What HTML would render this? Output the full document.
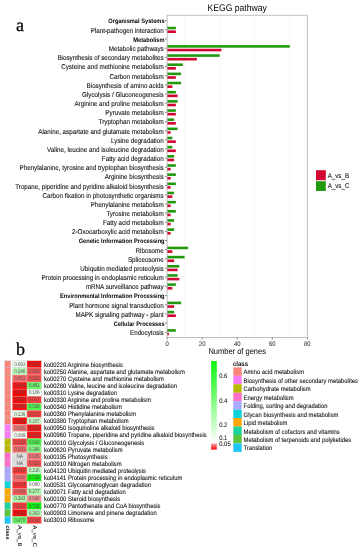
<!DOCTYPE html>
<html><head><meta charset="utf-8"><style>
html,body{margin:0;padding:0;background:#fff;}
body{width:362px;height:550px;overflow:hidden;}
svg{display:block;}
text{font-family:"Liberation Sans",Arial,sans-serif;text-rendering:geometricPrecision;}
.lab{font-family:"Liberation Serif","Times New Roman",serif;font-size:18px;fill:#000;stroke:#000;stroke-width:0.25px;}
.title{font-size:8.6px;text-anchor:middle;dominant-baseline:auto;fill:#000;}
.y{font-size:6.25px;text-anchor:end;fill:#111;stroke:#111;stroke-width:0.09px;}
.yb{font-size:5.7px;font-weight:bold;text-anchor:end;fill:#000;}
.xt{font-size:5.9px;text-anchor:middle;fill:#333;stroke:#333;stroke-width:0.06px;}
.xl{font-size:7.5px;text-anchor:middle;fill:#000;}
.lg{font-size:6.2px;fill:#111;stroke:#111;stroke-width:0.08px;}
.grid{stroke:#f2f2f2;stroke-width:0.6;}
.tick{stroke:#333;stroke-width:0.6;}
.frame{fill:none;stroke:#aaaaaa;stroke-width:0.75;}
.cb{stroke:#c4c4c4;stroke-width:0.3;}
.num{font-size:4.8px;letter-spacing:-0.25px;text-anchor:middle;fill:#555;}
.rl{font-size:5.85px;fill:#111;stroke:#111;stroke-width:0.08px;}
.cl{font-size:5.5px;fill:#111;stroke:#111;stroke-width:0.08px;}
.clb{font-size:5.1px;font-weight:bold;fill:#000;}
.cbl{font-size:5.9px;fill:#222;stroke:#222;stroke-width:0.08px;}
.lt{font-size:6px;font-weight:bold;fill:#000;}
.lgt{font-size:5.85px;fill:#111;stroke:#111;stroke-width:0.08px;}
</style></head><body>
<svg width="362" height="550" viewBox="0 0 362 550">
<text x="16" y="31.4" class="lab">a</text>
<text transform="translate(237.2 10.6) scale(1 1.12)" class="title">KEGG pathway</text>
<line x1="184.62" y1="15.2" x2="184.62" y2="337.5" class="grid"/>
<line x1="219.68" y1="15.2" x2="219.68" y2="337.5" class="grid"/>
<line x1="254.73" y1="15.2" x2="254.73" y2="337.5" class="grid"/>
<line x1="289.77" y1="15.2" x2="289.77" y2="337.5" class="grid"/>
<text transform="translate(164.6 23.35) scale(1 1.12)" class="yb">Organismal Systems</text>
<line x1="165" y1="20.7" x2="167.1" y2="20.7" class="tick"/>
<text transform="translate(163.7 32.76) scale(1 1.12)" class="y">Plant-pathogen interaction</text>
<line x1="165" y1="29.86" x2="167.1" y2="29.86" class="tick"/>
<rect x="167.1" y="26.76" width="8.76" height="2.6" fill="#21990c"/>
<rect x="167.1" y="30.41" width="8.76" height="2.6" fill="#d20432"/>
<text transform="translate(164.6 41.67) scale(1 1.12)" class="yb">Metabolism</text>
<line x1="165" y1="39.02" x2="167.1" y2="39.02" class="tick"/>
<text transform="translate(163.7 51.09) scale(1 1.12)" class="y">Metabolic pathways</text>
<line x1="165" y1="48.19" x2="167.1" y2="48.19" class="tick"/>
<rect x="167.1" y="45.09" width="122.68" height="2.6" fill="#21990c"/>
<rect x="167.1" y="48.74" width="54.33" height="2.6" fill="#d20432"/>
<text transform="translate(163.7 60.25) scale(1 1.12)" class="y">Biosynthesis of secondary metabolites</text>
<line x1="165" y1="57.35" x2="167.1" y2="57.35" class="tick"/>
<rect x="167.1" y="54.25" width="52.58" height="2.6" fill="#21990c"/>
<rect x="167.1" y="57.9" width="29.79" height="2.6" fill="#d20432"/>
<text transform="translate(163.7 69.41) scale(1 1.12)" class="y">Cysteine and methionine metabolism</text>
<line x1="165" y1="66.51" x2="167.1" y2="66.51" class="tick"/>
<rect x="167.1" y="63.41" width="15.77" height="2.6" fill="#21990c"/>
<rect x="167.1" y="67.06" width="8.76" height="2.6" fill="#d20432"/>
<text transform="translate(163.7 78.57) scale(1 1.12)" class="y">Carbon metabolism</text>
<line x1="165" y1="75.67" x2="167.1" y2="75.67" class="tick"/>
<rect x="167.1" y="72.57" width="14.02" height="2.6" fill="#21990c"/>
<rect x="167.1" y="76.22" width="8.76" height="2.6" fill="#d20432"/>
<text transform="translate(163.7 87.73) scale(1 1.12)" class="y">Biosynthesis of amino acids</text>
<line x1="165" y1="84.83" x2="167.1" y2="84.83" class="tick"/>
<rect x="167.1" y="81.73" width="14.02" height="2.6" fill="#21990c"/>
<rect x="167.1" y="85.38" width="5.26" height="2.6" fill="#d20432"/>
<text transform="translate(163.7 96.9) scale(1 1.12)" class="y">Glycolysis / Gluconeogenesis</text>
<line x1="165" y1="94" x2="167.1" y2="94" class="tick"/>
<rect x="167.1" y="90.9" width="8.76" height="2.6" fill="#21990c"/>
<rect x="167.1" y="94.55" width="10.52" height="2.6" fill="#d20432"/>
<text transform="translate(163.7 106.06) scale(1 1.12)" class="y">Arginine and proline metabolism</text>
<line x1="165" y1="103.16" x2="167.1" y2="103.16" class="tick"/>
<rect x="167.1" y="100.06" width="10.52" height="2.6" fill="#21990c"/>
<rect x="167.1" y="103.71" width="8.76" height="2.6" fill="#d20432"/>
<text transform="translate(163.7 115.22) scale(1 1.12)" class="y">Pyruvate metabolism</text>
<line x1="165" y1="112.32" x2="167.1" y2="112.32" class="tick"/>
<rect x="167.1" y="109.22" width="8.76" height="2.6" fill="#21990c"/>
<rect x="167.1" y="112.87" width="8.76" height="2.6" fill="#d20432"/>
<text transform="translate(163.7 124.38) scale(1 1.12)" class="y">Tryptophan metabolism</text>
<line x1="165" y1="121.48" x2="167.1" y2="121.48" class="tick"/>
<rect x="167.1" y="118.38" width="7.01" height="2.6" fill="#21990c"/>
<rect x="167.1" y="122.03" width="8.76" height="2.6" fill="#d20432"/>
<text transform="translate(163.7 133.54) scale(1 1.12)" class="y">Alanine, aspartate and glutamate metabolism</text>
<line x1="165" y1="130.64" x2="167.1" y2="130.64" class="tick"/>
<rect x="167.1" y="127.54" width="10.52" height="2.6" fill="#21990c"/>
<rect x="167.1" y="131.19" width="3.51" height="2.6" fill="#d20432"/>
<text transform="translate(163.7 142.71) scale(1 1.12)" class="y">Lysine degradation</text>
<line x1="165" y1="139.81" x2="167.1" y2="139.81" class="tick"/>
<rect x="167.1" y="136.71" width="5.26" height="2.6" fill="#21990c"/>
<rect x="167.1" y="140.36" width="8.76" height="2.6" fill="#d20432"/>
<text transform="translate(163.7 151.87) scale(1 1.12)" class="y">Valine, leucine and isoleucine degradation</text>
<line x1="165" y1="148.97" x2="167.1" y2="148.97" class="tick"/>
<rect x="167.1" y="145.87" width="5.26" height="2.6" fill="#21990c"/>
<rect x="167.1" y="149.52" width="8.76" height="2.6" fill="#d20432"/>
<text transform="translate(163.7 161.03) scale(1 1.12)" class="y">Fatty acid degradation</text>
<line x1="165" y1="158.13" x2="167.1" y2="158.13" class="tick"/>
<rect x="167.1" y="155.03" width="7.01" height="2.6" fill="#21990c"/>
<rect x="167.1" y="158.68" width="7.01" height="2.6" fill="#d20432"/>
<text transform="translate(163.7 170.19) scale(1 1.12)" class="y">Phenylalanine, tyrosine and tryptophan biosynthesis</text>
<line x1="165" y1="167.29" x2="167.1" y2="167.29" class="tick"/>
<rect x="167.1" y="164.19" width="8.76" height="2.6" fill="#21990c"/>
<rect x="167.1" y="167.84" width="3.51" height="2.6" fill="#d20432"/>
<text transform="translate(163.7 179.35) scale(1 1.12)" class="y">Arginine biosynthesis</text>
<line x1="165" y1="176.45" x2="167.1" y2="176.45" class="tick"/>
<rect x="167.1" y="173.35" width="8.76" height="2.6" fill="#21990c"/>
<rect x="167.1" y="177" width="3.51" height="2.6" fill="#d20432"/>
<text transform="translate(163.7 188.52) scale(1 1.12)" class="y">Tropane, piperidine and pyridine alkaloid biosynthesis</text>
<line x1="165" y1="185.62" x2="167.1" y2="185.62" class="tick"/>
<rect x="167.1" y="182.52" width="8.76" height="2.6" fill="#21990c"/>
<rect x="167.1" y="186.17" width="3.51" height="2.6" fill="#d20432"/>
<text transform="translate(163.7 197.68) scale(1 1.12)" class="y">Carbon fixation in photosynthetic organisms</text>
<line x1="165" y1="194.78" x2="167.1" y2="194.78" class="tick"/>
<rect x="167.1" y="191.68" width="7.01" height="2.6" fill="#21990c"/>
<rect x="167.1" y="195.33" width="5.26" height="2.6" fill="#d20432"/>
<text transform="translate(163.7 206.84) scale(1 1.12)" class="y">Phenylalanine metabolism</text>
<line x1="165" y1="203.94" x2="167.1" y2="203.94" class="tick"/>
<rect x="167.1" y="200.84" width="8.76" height="2.6" fill="#21990c"/>
<rect x="167.1" y="204.49" width="3.51" height="2.6" fill="#d20432"/>
<text transform="translate(163.7 216) scale(1 1.12)" class="y">Tyrosine metabolism</text>
<line x1="165" y1="213.1" x2="167.1" y2="213.1" class="tick"/>
<rect x="167.1" y="210" width="8.76" height="2.6" fill="#21990c"/>
<rect x="167.1" y="213.65" width="3.51" height="2.6" fill="#d20432"/>
<text transform="translate(163.7 225.16) scale(1 1.12)" class="y">Fatty acid metabolism</text>
<line x1="165" y1="222.26" x2="167.1" y2="222.26" class="tick"/>
<rect x="167.1" y="219.16" width="7.01" height="2.6" fill="#21990c"/>
<rect x="167.1" y="222.81" width="3.51" height="2.6" fill="#d20432"/>
<text transform="translate(163.7 234.33) scale(1 1.12)" class="y">2-Oxocarboxylic acid metabolism</text>
<line x1="165" y1="231.43" x2="167.1" y2="231.43" class="tick"/>
<rect x="167.1" y="228.33" width="7.01" height="2.6" fill="#21990c"/>
<rect x="167.1" y="231.98" width="3.51" height="2.6" fill="#d20432"/>
<text transform="translate(164.6 243.24) scale(1 1.12)" class="yb">Genetic Information Processing</text>
<line x1="165" y1="240.59" x2="167.1" y2="240.59" class="tick"/>
<text transform="translate(163.7 252.65) scale(1 1.12)" class="y">Ribosome</text>
<line x1="165" y1="249.75" x2="167.1" y2="249.75" class="tick"/>
<rect x="167.1" y="246.65" width="21.03" height="2.6" fill="#21990c"/>
<rect x="167.1" y="250.3" width="5.26" height="2.6" fill="#d20432"/>
<text transform="translate(163.7 261.81) scale(1 1.12)" class="y">Spliceosome</text>
<line x1="165" y1="258.91" x2="167.1" y2="258.91" class="tick"/>
<rect x="167.1" y="255.81" width="17.53" height="2.6" fill="#21990c"/>
<rect x="167.1" y="259.46" width="7.01" height="2.6" fill="#d20432"/>
<text transform="translate(163.7 270.97) scale(1 1.12)" class="y">Ubiquitin mediated proteolysis</text>
<line x1="165" y1="268.07" x2="167.1" y2="268.07" class="tick"/>
<rect x="167.1" y="264.97" width="12.27" height="2.6" fill="#21990c"/>
<rect x="167.1" y="268.62" width="10.52" height="2.6" fill="#d20432"/>
<text transform="translate(163.7 280.14) scale(1 1.12)" class="y">Protein processing in endoplasmic reticulum</text>
<line x1="165" y1="277.24" x2="167.1" y2="277.24" class="tick"/>
<rect x="167.1" y="274.14" width="10.52" height="2.6" fill="#21990c"/>
<rect x="167.1" y="277.79" width="12.27" height="2.6" fill="#d20432"/>
<text transform="translate(163.7 289.3) scale(1 1.12)" class="y">mRNA surveillance pathway</text>
<line x1="165" y1="286.4" x2="167.1" y2="286.4" class="tick"/>
<rect x="167.1" y="283.3" width="8.76" height="2.6" fill="#21990c"/>
<rect x="167.1" y="286.95" width="5.26" height="2.6" fill="#d20432"/>
<text transform="translate(164.6 298.21) scale(1 1.12)" class="yb">Environmental Information Processing</text>
<line x1="165" y1="295.56" x2="167.1" y2="295.56" class="tick"/>
<text transform="translate(163.7 307.62) scale(1 1.12)" class="y">Plant hormone signal transduction</text>
<line x1="165" y1="304.72" x2="167.1" y2="304.72" class="tick"/>
<rect x="167.1" y="301.62" width="14.02" height="2.6" fill="#21990c"/>
<rect x="167.1" y="305.27" width="7.01" height="2.6" fill="#d20432"/>
<text transform="translate(163.7 316.78) scale(1 1.12)" class="y">MAPK signaling pathway - plant</text>
<line x1="165" y1="313.88" x2="167.1" y2="313.88" class="tick"/>
<rect x="167.1" y="310.78" width="7.01" height="2.6" fill="#21990c"/>
<rect x="167.1" y="314.43" width="8.76" height="2.6" fill="#d20432"/>
<text transform="translate(164.6 325.7) scale(1 1.12)" class="yb">Cellular Processes</text>
<line x1="165" y1="323.05" x2="167.1" y2="323.05" class="tick"/>
<text transform="translate(163.7 335.11) scale(1 1.12)" class="y">Endocytosis</text>
<line x1="165" y1="332.21" x2="167.1" y2="332.21" class="tick"/>
<rect x="167.1" y="329.11" width="8.76" height="2.6" fill="#21990c"/>
<rect x="167.1" y="332.76" width="1.75" height="2.6" fill="#d20432"/>
<rect x="167.1" y="15.2" width="140.2" height="322.3" class="frame"/>
<line x1="167.1" y1="337.5" x2="167.1" y2="339.5" class="tick"/>
<text transform="translate(167.1 346.1) scale(1 1.12)" class="xt">0</text>
<line x1="202.15" y1="337.5" x2="202.15" y2="339.5" class="tick"/>
<text transform="translate(202.15 346.1) scale(1 1.12)" class="xt">20</text>
<line x1="237.2" y1="337.5" x2="237.2" y2="339.5" class="tick"/>
<text transform="translate(237.2 346.1) scale(1 1.12)" class="xt">40</text>
<line x1="272.25" y1="337.5" x2="272.25" y2="339.5" class="tick"/>
<text transform="translate(272.25 346.1) scale(1 1.12)" class="xt">60</text>
<line x1="307.3" y1="337.5" x2="307.3" y2="339.5" class="tick"/>
<text transform="translate(307.3 346.1) scale(1 1.12)" class="xt">80</text>
<text transform="translate(237.2 354.4) scale(1 1.12)" class="xl">Number of genes</text>
<rect x="316" y="170.2" width="9.8" height="10" fill="#d20432"/>
<rect x="316" y="181.2" width="9.8" height="9.8" fill="#21990c"/>
<text transform="translate(327.7 177.6) scale(1 1.12)" class="lg">A_vs_B</text>
<text transform="translate(327.7 188.4) scale(1 1.12)" class="lg">A_vs_C</text>
<text x="16" y="354.6" class="lab">b</text>
<rect x="4.7" y="360.8" width="5.9" height="7.08" fill="#f8847a" class="cb"/>
<rect x="12.4" y="360.8" width="14.6" height="7.08" fill="#f3fef3" class="cb"/>
<rect x="27.0" y="360.8" width="14.3" height="7.08" fill="#ff0707" class="cb"/>
<text transform="translate(19.7 365.94) scale(1 1.12)" class="num">0.093</text>
<text transform="translate(34.15 365.94) scale(1 1.12)" class="num">0.002</text>
<text transform="translate(43.9 366.64) scale(1 1.12)" class="rl">ko00220 Arginine biosynthesis</text>
<rect x="4.7" y="367.88" width="5.9" height="7.08" fill="#f8847a" class="cb"/>
<rect x="12.4" y="367.88" width="14.6" height="7.08" fill="#b9fcb9" class="cb"/>
<rect x="27.0" y="367.88" width="14.3" height="7.08" fill="#fc5252" class="cb"/>
<text transform="translate(19.7 373.02) scale(1 1.12)" class="num">0.246</text>
<text transform="translate(34.15 373.02) scale(1 1.12)" class="num">0.024</text>
<text transform="translate(43.9 373.72) scale(1 1.12)" class="rl">ko00250 Alanine, aspartate and glutamate metabolism</text>
<rect x="4.7" y="374.96" width="5.9" height="7.08" fill="#f8847a" class="cb"/>
<rect x="12.4" y="374.96" width="14.6" height="7.08" fill="#fb6969" class="cb"/>
<rect x="27.0" y="374.96" width="14.3" height="7.08" fill="#fc4b4b" class="cb"/>
<text transform="translate(19.7 380.1) scale(1 1.12)" class="num">0.051</text>
<text transform="translate(34.15 380.1) scale(1 1.12)" class="num">0.022</text>
<text transform="translate(43.9 380.8) scale(1 1.12)" class="rl">ko00270 Cysteine and methionine metabolism</text>
<rect x="4.7" y="382.04" width="5.9" height="7.08" fill="#f8847a" class="cb"/>
<rect x="12.4" y="382.04" width="14.6" height="7.08" fill="#fe0e0e" class="cb"/>
<rect x="27.0" y="382.04" width="14.3" height="7.08" fill="#69f869" class="cb"/>
<text transform="translate(19.7 387.18) scale(1 1.12)" class="num">0.004</text>
<text transform="translate(34.15 387.18) scale(1 1.12)" class="num">0.461</text>
<text transform="translate(43.9 387.88) scale(1 1.12)" class="rl">ko00280 Valine, leucine and isoleucine degradation</text>
<rect x="4.7" y="389.12" width="5.9" height="7.08" fill="#f8847a" class="cb"/>
<rect x="12.4" y="389.12" width="14.6" height="7.08" fill="#ff0000" class="cb"/>
<rect x="27.0" y="389.12" width="14.3" height="7.08" fill="#eefeee" class="cb"/>
<text transform="translate(19.7 394.26) scale(1 1.12)" class="num">0.000</text>
<text transform="translate(34.15 394.26) scale(1 1.12)" class="num">0.106</text>
<text transform="translate(43.9 394.96) scale(1 1.12)" class="rl">ko00310 Lysine degradation</text>
<rect x="4.7" y="396.2" width="5.9" height="7.08" fill="#f8847a" class="cb"/>
<rect x="12.4" y="396.2" width="14.6" height="7.08" fill="#ff0707" class="cb"/>
<rect x="27.0" y="396.2" width="14.3" height="7.08" fill="#fd3a3a" class="cb"/>
<text transform="translate(19.7 401.34) scale(1 1.12)" class="num">0.002</text>
<text transform="translate(34.15 401.34) scale(1 1.12)" class="num">0.017</text>
<text transform="translate(43.9 402.04) scale(1 1.12)" class="rl">ko00330 Arginine and proline metabolism</text>
<rect x="4.7" y="403.28" width="5.9" height="7.08" fill="#f8847a" class="cb"/>
<rect x="12.4" y="403.28" width="14.6" height="7.08" fill="#fe0e0e" class="cb"/>
<rect x="27.0" y="403.28" width="14.3" height="7.08" fill="#4cf74c" class="cb"/>
<text transform="translate(19.7 408.42) scale(1 1.12)" class="num">0.004</text>
<text transform="translate(34.15 408.42) scale(1 1.12)" class="num">0.539</text>
<text transform="translate(43.9 409.12) scale(1 1.12)" class="rl">ko00340 Histidine metabolism</text>
<rect x="4.7" y="410.36" width="5.9" height="7.08" fill="#f8847a" class="cb"/>
<rect x="12.4" y="410.36" width="14.6" height="7.08" fill="#e3fee3" class="cb"/>
<rect x="27.0" y="410.36" width="14.3" height="7.08" fill="#fd3a3a" class="cb"/>
<text transform="translate(19.7 415.5) scale(1 1.12)" class="num">0.136</text>
<text transform="translate(34.15 415.5) scale(1 1.12)" class="num">0.017</text>
<text transform="translate(43.9 416.2) scale(1 1.12)" class="rl">ko00360 Phenylalanine metabolism</text>
<rect x="4.7" y="417.44" width="5.9" height="7.08" fill="#f8847a" class="cb"/>
<rect x="12.4" y="417.44" width="14.6" height="7.08" fill="#ff0a0a" class="cb"/>
<rect x="27.0" y="417.44" width="14.3" height="7.08" fill="#c8fdc8" class="cb"/>
<text transform="translate(19.7 422.58) scale(1 1.12)" class="num">0.003</text>
<text transform="translate(34.15 422.58) scale(1 1.12)" class="num">0.207</text>
<text transform="translate(43.9 423.28) scale(1 1.12)" class="rl">ko00380 Tryptophan metabolism</text>
<rect x="4.7" y="424.52" width="5.9" height="7.08" fill="#f67cf4" class="cb"/>
<rect x="12.4" y="424.52" width="14.6" height="7.08" fill="#fa7777" class="cb"/>
<rect x="27.0" y="424.52" width="14.3" height="7.08" fill="#fe1111" class="cb"/>
<text transform="translate(19.7 429.66) scale(1 1.12)" class="num">0.035</text>
<text transform="translate(34.15 429.66) scale(1 1.12)" class="num">0.005</text>
<text transform="translate(43.9 430.36) scale(1 1.12)" class="rl">ko00950 Isoquinoline alkaloid biosynthesis</text>
<rect x="4.7" y="431.6" width="5.9" height="7.08" fill="#f67cf4" class="cb"/>
<rect x="12.4" y="431.6" width="14.6" height="7.08" fill="#f4fff4" class="cb"/>
<rect x="27.0" y="431.6" width="14.3" height="7.08" fill="#fe1414" class="cb"/>
<text transform="translate(19.7 436.74) scale(1 1.12)" class="num">0.089</text>
<text transform="translate(34.15 436.74) scale(1 1.12)" class="num">0.006</text>
<text transform="translate(43.9 437.44) scale(1 1.12)" class="rl">ko00960 Tropane, piperidine and pyridine alkaloid biosynthesis</text>
<rect x="4.7" y="438.68" width="5.9" height="7.08" fill="#b8b800" class="cb"/>
<rect x="12.4" y="438.68" width="14.6" height="7.08" fill="#fc3d3d" class="cb"/>
<rect x="27.0" y="438.68" width="14.3" height="7.08" fill="#4af74a" class="cb"/>
<text transform="translate(19.7 443.82) scale(1 1.12)" class="num">0.018</text>
<text transform="translate(34.15 443.82) scale(1 1.12)" class="num">0.543</text>
<text transform="translate(43.9 444.52) scale(1 1.12)" class="rl">ko00010 Glycolysis / Gluconeogenesis</text>
<rect x="4.7" y="445.76" width="5.9" height="7.08" fill="#b8b800" class="cb"/>
<rect x="12.4" y="445.76" width="14.6" height="7.08" fill="#fb6969" class="cb"/>
<rect x="27.0" y="445.76" width="14.3" height="7.08" fill="#81f981" class="cb"/>
<text transform="translate(19.7 450.9) scale(1 1.12)" class="num">0.031</text>
<text transform="translate(34.15 450.9) scale(1 1.12)" class="num">0.396</text>
<text transform="translate(43.9 451.6) scale(1 1.12)" class="rl">ko00620 Pyruvate metabolism</text>
<rect x="4.7" y="452.84" width="5.9" height="7.08" fill="#fd6ec8" class="cb"/>
<rect x="12.4" y="452.84" width="14.6" height="7.08" fill="#dddddd" class="cb"/>
<rect x="27.0" y="452.84" width="14.3" height="7.08" fill="#fa7777" class="cb"/>
<text transform="translate(19.7 457.98) scale(1 1.12)" class="num">NA</text>
<text transform="translate(34.15 457.98) scale(1 1.12)" class="num">0.035</text>
<text transform="translate(43.9 458.68) scale(1 1.12)" class="rl">ko00195 Photosynthesis</text>
<rect x="4.7" y="459.92" width="5.9" height="7.08" fill="#fd6ec8" class="cb"/>
<rect x="12.4" y="459.92" width="14.6" height="7.08" fill="#dddddd" class="cb"/>
<rect x="27.0" y="459.92" width="14.3" height="7.08" fill="#fc4e4e" class="cb"/>
<text transform="translate(19.7 465.06) scale(1 1.12)" class="num">NA</text>
<text transform="translate(34.15 465.06) scale(1 1.12)" class="num">0.023</text>
<text transform="translate(43.9 465.76) scale(1 1.12)" class="rl">ko00910 Nitrogen metabolism</text>
<rect x="4.7" y="467" width="5.9" height="7.08" fill="#a8a8fc" class="cb"/>
<rect x="12.4" y="467" width="14.6" height="7.08" fill="#fd3333" class="cb"/>
<rect x="27.0" y="467" width="14.3" height="7.08" fill="#c5fcc5" class="cb"/>
<text transform="translate(19.7 472.14) scale(1 1.12)" class="num">0.015</text>
<text transform="translate(34.15 472.14) scale(1 1.12)" class="num">0.216</text>
<text transform="translate(43.9 472.84) scale(1 1.12)" class="rl">ko04120 Ubiquitin mediated proteolysis</text>
<rect x="4.7" y="474.08" width="5.9" height="7.08" fill="#a8a8fc" class="cb"/>
<rect x="12.4" y="474.08" width="14.6" height="7.08" fill="#fb6d6d" class="cb"/>
<rect x="27.0" y="474.08" width="14.3" height="7.08" fill="#09f409" class="cb"/>
<text transform="translate(19.7 479.22) scale(1 1.12)" class="num">0.032</text>
<text transform="translate(34.15 479.22) scale(1 1.12)" class="num">0.716</text>
<text transform="translate(43.9 479.92) scale(1 1.12)" class="rl">ko04141 Protein processing in endoplasmic reticulum</text>
<rect x="4.7" y="481.16" width="5.9" height="7.08" fill="#10d0da" class="cb"/>
<rect x="12.4" y="481.16" width="14.6" height="7.08" fill="#fd2c2c" class="cb"/>
<rect x="27.0" y="481.16" width="14.3" height="7.08" fill="#ffffff" class="cb"/>
<text transform="translate(19.7 486.3) scale(1 1.12)" class="num">0.013</text>
<text transform="translate(34.15 486.3) scale(1 1.12)" class="num">0.060</text>
<text transform="translate(43.9 487) scale(1 1.12)" class="rl">ko00531 Glycosaminoglycan degradation</text>
<rect x="4.7" y="488.24" width="5.9" height="7.08" fill="#fca600" class="cb"/>
<rect x="12.4" y="488.24" width="14.6" height="7.08" fill="#fb5858" class="cb"/>
<rect x="27.0" y="488.24" width="14.3" height="7.08" fill="#aefbae" class="cb"/>
<text transform="translate(19.7 493.38) scale(1 1.12)" class="num">0.026</text>
<text transform="translate(34.15 493.38) scale(1 1.12)" class="num">0.277</text>
<text transform="translate(43.9 494.08) scale(1 1.12)" class="rl">ko00071 Fatty acid degradation</text>
<rect x="4.7" y="495.32" width="5.9" height="7.08" fill="#fca600" class="cb"/>
<rect x="12.4" y="495.32" width="14.6" height="7.08" fill="#acfbac" class="cb"/>
<rect x="27.0" y="495.32" width="14.3" height="7.08" fill="#f98f8f" class="cb"/>
<text transform="translate(19.7 500.46) scale(1 1.12)" class="num">0.283</text>
<text transform="translate(34.15 500.46) scale(1 1.12)" class="num">0.042</text>
<text transform="translate(43.9 501.16) scale(1 1.12)" class="rl">ko00100 Steroid biosynthesis</text>
<rect x="4.7" y="502.4" width="5.9" height="7.08" fill="#1cd49c" class="cb"/>
<rect x="12.4" y="502.4" width="14.6" height="7.08" fill="#fd3a3a" class="cb"/>
<rect x="27.0" y="502.4" width="14.3" height="7.08" fill="#08f408" class="cb"/>
<text transform="translate(19.7 507.54) scale(1 1.12)" class="num">0.017</text>
<text transform="translate(34.15 507.54) scale(1 1.12)" class="num">0.719</text>
<text transform="translate(43.9 508.24) scale(1 1.12)" class="rl">ko00770 Pantothenate and CoA biosynthesis</text>
<rect x="4.7" y="509.48" width="5.9" height="7.08" fill="#5cc43c" class="cb"/>
<rect x="12.4" y="509.48" width="14.6" height="7.08" fill="#ff0000" class="cb"/>
<rect x="27.0" y="509.48" width="14.3" height="7.08" fill="#b3fcb3" class="cb"/>
<text transform="translate(19.7 514.62) scale(1 1.12)" class="num">0.000</text>
<text transform="translate(34.15 514.62) scale(1 1.12)" class="num">0.263</text>
<text transform="translate(43.9 515.32) scale(1 1.12)" class="rl">ko00903 Limonene and pinene degradation</text>
<rect x="4.7" y="516.56" width="5.9" height="7.08" fill="#1cc6f8" class="cb"/>
<rect x="12.4" y="516.56" width="14.6" height="7.08" fill="#66f866" class="cb"/>
<rect x="27.0" y="516.56" width="14.3" height="7.08" fill="#fc3d3d" class="cb"/>
<text transform="translate(19.7 521.7) scale(1 1.12)" class="num">0.470</text>
<text transform="translate(34.15 521.7) scale(1 1.12)" class="num">0.018</text>
<text transform="translate(43.9 522.4) scale(1 1.12)" class="rl">ko03010 Ribosome</text>
<text transform="translate(5.7 525.4) scale(1 1.12) rotate(90)" class="clb">class</text>
<text transform="translate(17.6 525.3) scale(1 1.12) rotate(90)" class="cl">A_vs_B</text>
<text transform="translate(32.5 525.3) scale(1 1.12) rotate(90)" class="cl">A_vs_C</text>
<defs><linearGradient id="gg" x1="0" y1="1" x2="0" y2="0"><stop offset="0" stop-color="#ffffff"/><stop offset="1" stop-color="#0cf70c"/></linearGradient><linearGradient id="rg" x1="0" y1="1" x2="0" y2="0"><stop offset="0" stop-color="#ff0000"/><stop offset="1" stop-color="#f8a0a8"/></linearGradient></defs>
<rect x="211.1" y="361" width="5.7" height="82.3" fill="url(#gg)"/>
<rect x="211.1" y="443.6" width="5.7" height="6" fill="url(#rg)"/>
<text transform="translate(219.2 378.25) scale(1 1.12)" class="cbl">0.6</text>
<text transform="translate(219.2 402.85) scale(1 1.12)" class="cbl">0.4</text>
<text transform="translate(219.2 427.35) scale(1 1.12)" class="cbl">0.2</text>
<text transform="translate(219.2 439.55) scale(1 1.12)" class="cbl">0.1</text>
<text transform="translate(219.2 446.35) scale(1 1.12)" class="cbl">0.05</text>
<text transform="translate(233 365.8) scale(1 1.12)" class="lt">class</text>
<rect x="233.3" y="367.4" width="8.4" height="8.45" fill="#f8847a"/>
<text transform="translate(243.6 374.4) scale(1 1.12)" class="lgt">Amino acid metabolism</text>
<rect x="233.3" y="375.85" width="8.4" height="8.45" fill="#f67cf4"/>
<text transform="translate(243.6 382.85) scale(1 1.12)" class="lgt">Biosynthesis of other secondary metabolites</text>
<rect x="233.3" y="384.3" width="8.4" height="8.45" fill="#b8b800"/>
<text transform="translate(243.6 391.3) scale(1 1.12)" class="lgt">Carbohydrate metabolism</text>
<rect x="233.3" y="392.75" width="8.4" height="8.45" fill="#fd6ec8"/>
<text transform="translate(243.6 399.75) scale(1 1.12)" class="lgt">Energy metabolism</text>
<rect x="233.3" y="401.2" width="8.4" height="8.45" fill="#a8a8fc"/>
<text transform="translate(243.6 408.2) scale(1 1.12)" class="lgt">Folding, sorting and degradation</text>
<rect x="233.3" y="409.65" width="8.4" height="8.45" fill="#10d0da"/>
<text transform="translate(243.6 416.65) scale(1 1.12)" class="lgt">Glycan biosynthesis and metabolism</text>
<rect x="233.3" y="418.1" width="8.4" height="8.45" fill="#fca600"/>
<text transform="translate(243.6 425.1) scale(1 1.12)" class="lgt">Lipid metabolism</text>
<rect x="233.3" y="426.55" width="8.4" height="8.45" fill="#1cd49c"/>
<text transform="translate(243.6 433.55) scale(1 1.12)" class="lgt">Metabolism of cofactors and vitamins</text>
<rect x="233.3" y="435" width="8.4" height="8.45" fill="#5cc43c"/>
<text transform="translate(243.6 442) scale(1 1.12)" class="lgt">Metabolism of terpenoids and polyketides</text>
<rect x="233.3" y="443.45" width="8.4" height="8.45" fill="#1cc6f8"/>
<text transform="translate(243.6 450.45) scale(1 1.12)" class="lgt">Translation</text>
</svg>
</body></html>
